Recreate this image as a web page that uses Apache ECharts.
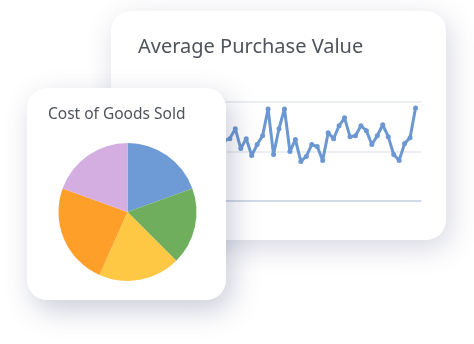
<!DOCTYPE html>
<html>
<head>
<meta charset="utf-8">
<script src="https://cdn.jsdelivr.net/npm/echarts@6/dist/echarts.min.js"></script>
<style>
html,body{margin:0;padding:0;background:#fff;}
#c{width:474px;height:344px;}
</style>
</head>
<body>
<div id="c"></div>
<script>
// Data
var lineTitle = 'Average Purchase Value';
var pieTitle = 'Cost of Goods Sold';
var lineValues = [55, 62, 48, 70, 58, 66, 52, 60, 74, 57, 63, 50, 68, 59, 65, 54, 61,
  63, 73, 53, 63, 46, 57, 66, 93, 47, 73, 93, 50, 62, 40, 45, 57, 55, 41, 69, 63,
  76, 84, 65, 66, 76, 71, 57, 66, 77, 65, 47, 41, 58, 64, 94, '-'];
var categories = lineValues.map(function(v, i){ return String(i + 1); });
var pieNames = ['A', 'B', 'C', 'D', 'E'];
var pieValues = [70, 65, 69, 86, 70];
var pieColors = ['#6e9bd5', '#6eae5d', '#fec845', '#fe9f2a', '#d4aee0'];

var chart = echarts.init(document.getElementById('c'));
var font = '"Noto Sans", "Open Sans", sans-serif';
chart.setOption({
  animation: false,
  title: [
    {text: lineTitle, left: 138, top: 37, padding: 0, textStyle: {fontFamily: font, fontSize: 20, fontWeight: 'normal', color: '#4f535a'}},
    {text: pieTitle, left: 48, top: 107, padding: 0, z: 10, textStyle: {fontFamily: font, fontSize: 15.5, fontWeight: 'normal', color: '#4f535a'}}
  ],
  graphic: [
    {type: 'rect', z: 0, shape: {x: 111, y: 11, width: 335, height: 229, r: 20},
     style: {fill: '#fff', shadowColor: 'rgba(70,75,120,0.22)', shadowBlur: 28, shadowOffsetX: 4, shadowOffsetY: 8}},
    {type: 'rect', z: 5, shape: {x: 27, y: 88, width: 199, height: 212, r: 20},
     style: {fill: '#fff', shadowColor: 'rgba(70,75,120,0.28)', shadowBlur: 28, shadowOffsetX: 6, shadowOffsetY: 10}}
  ],
  grid: {left: 137, right: 53, top: 102, height: 99, z: 1},
  xAxis: {type: 'category', data: categories, boundaryGap: false, z: 1,
    axisLine: {show: true, lineStyle: {color: '#c9d3e3', width: 1.5}},
    axisTick: {show: false}, axisLabel: {show: false}, splitLine: {show: false}},
  yAxis: {type: 'value', min: 0, max: 100, interval: 50, z: 1,
    axisLine: {show: false}, axisTick: {show: false}, axisLabel: {show: false},
    splitLine: {lineStyle: {color: '#e5e8ee', width: 1.5}}},
  series: [
    {type: 'line', z: 2, data: lineValues, symbol: 'circle', symbolSize: 5, showSymbol: true, showAllSymbol: true,
     lineStyle: {color: '#6b97d2', width: 3}, itemStyle: {color: '#6b97d2'}},
    {type: 'pie', z: 8, center: [127.5, 212], radius: 69, startAngle: 90, clockwise: true,
     label: {show: false}, labelLine: {show: false},
     data: pieNames.map(function(n, i){ return {name: n, value: pieValues[i], itemStyle: {color: pieColors[i]}}; }),
     itemStyle: {borderWidth: 0}}
  ]
});
</script>
</body>
</html>
